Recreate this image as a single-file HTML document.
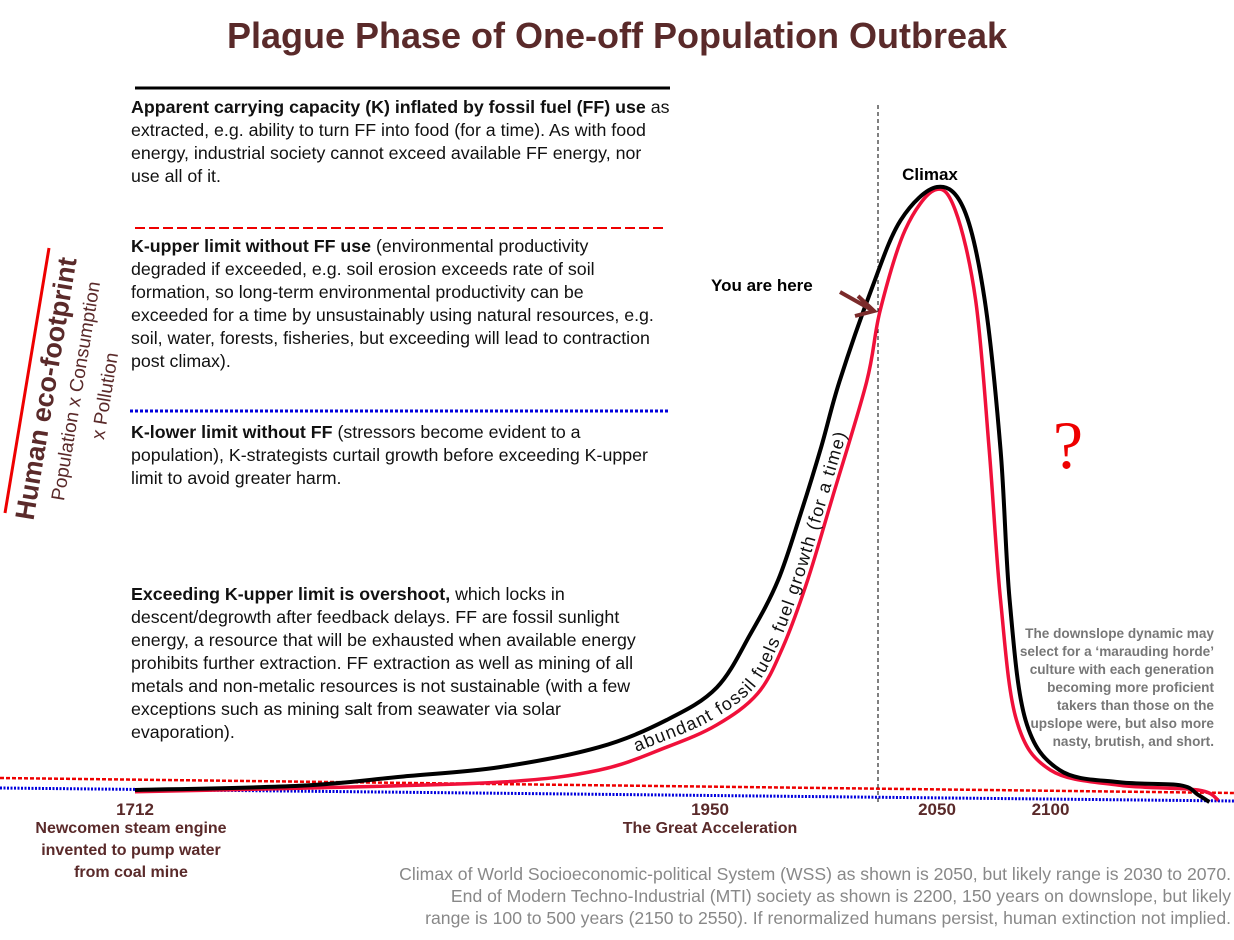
<!DOCTYPE html>
<html><head><meta charset="utf-8"><style>
body{margin:0;width:1234px;height:940px;background:#fff;overflow:hidden;position:relative;font-family:"Liberation Sans",sans-serif}
.t{position:absolute;font-size:17.8px;line-height:23px;color:#111;white-space:nowrap}
.br{color:#5a2a2a;font-weight:bold;position:absolute;text-align:center;font-size:16px;line-height:22px}
</style></head><body>
<div style="position:absolute;left:0;width:1234px;top:15px;text-align:center;font-size:36px;font-weight:bold;color:#5a2a2a">Plague Phase of One-off Population Outbreak</div>
<svg width="1234" height="940" style="position:absolute;left:0;top:0">
<defs><path id="labelPath" d=""/></defs>
<line x1="135" y1="88" x2="670" y2="88" stroke="#000" stroke-width="3"/>
<line x1="135" y1="228" x2="665" y2="228" stroke="#e00" stroke-width="2" stroke-dasharray="10,4"/>
<line x1="130" y1="411" x2="668" y2="411" stroke="#00d" stroke-width="3" stroke-dasharray="3,2"/>
<line x1="49" y1="248" x2="5" y2="513" stroke="#e00" stroke-width="3"/>
<line x1="0" y1="778" x2="1234" y2="793" stroke="#e00" stroke-width="2.5" stroke-dasharray="4,2"/>
<line x1="0" y1="788" x2="1234" y2="801" stroke="#00d" stroke-width="3" stroke-dasharray="2,1.5"/>
<line x1="878" y1="105" x2="878" y2="805" stroke="#000" stroke-width="1" stroke-dasharray="4,3"/>
<g id="curves"></g>
<text transform="translate(55,390) rotate(-80.6)" text-anchor="middle" font-size="27" font-weight="bold" fill="#5a2a2a" font-family="Liberation Sans, sans-serif">Human eco-footprint</text>
<text transform="translate(82,392) rotate(-80.6)" text-anchor="middle" font-size="19" fill="#5a2a2a" font-family="Liberation Sans, sans-serif">Population x Consumption</text>
<text transform="translate(111,397) rotate(-80.6)" text-anchor="middle" font-size="19" fill="#5a2a2a" font-family="Liberation Sans, sans-serif">x Pollution</text>
<text font-size="18" fill="#111" font-family="Liberation Sans, sans-serif"><textPath id="labelTP" href="#labelPath">abundant fossil fuels  fuel growth (for a time)</textPath></text>
<text x="930" y="180" text-anchor="middle" font-size="17" font-weight="bold" font-family="Liberation Sans, sans-serif">Climax</text>
<text x="711" y="291" font-size="17" font-weight="bold" font-family="Liberation Sans, sans-serif">You are here</text>
<line x1="840" y1="292" x2="872" y2="310" stroke="#7a2a2a" stroke-width="4"/>
<path d="M858,296 L874,311 L855,316" fill="none" stroke="#7a2a2a" stroke-width="4"/>
<text x="1068" y="468" text-anchor="middle" font-size="68" fill="#e00" font-family="Liberation Serif, serif">?</text>
<g id="ticks"></g>
</svg>
<div class="t" style="left:131px;top:96px"><b>Apparent carrying capacity (K) inflated by fossil fuel (FF) use</b> as<br>extracted, e.g. ability to turn FF into food (for a time). As with food<br>energy, industrial society cannot exceed available FF energy, nor<br>use all of it.</div>
<div class="t" style="left:131px;top:235px"><b>K-upper limit without FF use</b> (environmental productivity<br>degraded if exceeded, e.g. soil erosion exceeds rate of soil<br>formation, so  long-term environmental productivity can be<br>exceeded for a time by unsustainably using natural resources, e.g.<br>soil, water, forests, fisheries, but exceeding will lead to contraction<br>post climax).</div>
<div class="t" style="left:131px;top:421px"><b>K-lower limit without FF</b> (stressors become evident to a<br>population), K-strategists curtail growth before exceeding K-upper<br>limit to avoid greater harm.</div>
<div class="t" style="left:131px;top:583px"><b>Exceeding K-upper limit is overshoot,</b> which locks in<br>descent/degrowth after feedback delays. FF are fossil sunlight<br>energy, a resource that will be exhausted when available energy<br>prohibits further extraction. FF extraction as well as mining of all<br>metals and non-metalic resources is not sustainable (with a few<br>exceptions such as mining salt from seawater via solar<br>evaporation).</div>
<div style="position:absolute;right:20px;top:625px;text-align:right;font-size:13.6px;line-height:18px;color:#777;font-weight:bold;white-space:nowrap">The downslope dynamic may<br>select for a ‘marauding horde’<br>culture with each generation<br>becoming more proficient<br>takers than those on the<br>upslope were, but also more<br>nasty, brutish, and short.</div>
<div class="br" style="left:0;width:262px;top:818px">Newcomen steam engine<br>invented to pump water<br>from coal mine</div>
<div class="br" style="left:560px;width:300px;top:818px">The Great Acceleration</div>
<div style="position:absolute;right:3px;top:863px;text-align:right;font-size:17.6px;line-height:22px;color:#888;white-space:nowrap">Climax of World Socioeconomic-political System (WSS) as shown is 2050, but likely range is 2030 to 2070.<br>End of Modern Techno-Industrial (MTI) society as shown  is 2200, 150 years on downslope, but likely<br>range is 100 to 500 years (2150 to 2550). If renormalized humans persist, human extinction not implied.</div>
<script>
const tickYears=[1712,1950,2050,2100];
const blackYears=[1712,1780,1822,1863,1904,1932,1953,1968,1980,1990,1999,2007,2021,2034,2050,2062,2071,2078,2082,2089,2104,2130,2157,2165,2170];
const blackVals=[0,0.7,2.2,3.8,7.1,11.6,17,26,34.8,45.9,56.9,67.7,82.9,94.5,100,96.2,81.3,56.4,31.5,11.6,3.3,1.3,0.8,-0.8,-2.0];
const redYears=[1712,1780,1863,1904,1932,1953,1971,1982,1993,2004,2019,2025,2036,2049,2058,2067,2073,2078,2085,2100,2130,2165,2174];
const redVals=[-0.3,0.3,1.3,3.3,7.1,10.8,16,23.6,34.8,48.6,67.7,79.6,92.9,99.5,96.2,81.3,56.4,31.5,11.6,3.3,0.8,0,-1.7];
function xs(yr){return yr<1950?135+(yr-1712)*2.416:710+(yr-1950)*2.27;}
function ys(v){return 790-v*6.03;}
const NS='http://www.w3.org/2000/svg';
function pathFor(yrs,vals,dx,dy){
 dx=dx||0;dy=dy||0;
 const p=yrs.map((y,i)=>[xs(y)+dx,ys(vals[i])+dy]);
 let d='M'+p[0][0]+','+p[0][1];
 for(let i=0;i<p.length-1;i++){
  const p0=p[Math.max(0,i-1)],p1=p[i],p2=p[i+1],p3=p[Math.min(p.length-1,i+2)];
  const c1=[p1[0]+(p2[0]-p0[0])/6,p1[1]+(p2[1]-p0[1])/6];
  const c2=[p2[0]-(p3[0]-p1[0])/6,p2[1]-(p3[1]-p1[1])/6];
  d+=' C'+c1+' '+c2+' '+p2;
 }
 return d;
}
const g=document.getElementById('curves');
const rp=document.createElementNS(NS,'path');


rp.setAttribute('d',pathFor(redYears,redVals));
rp.setAttribute('fill','none');rp.setAttribute('stroke','#f0103a');rp.setAttribute('stroke-width','3.5');
g.appendChild(rp);
const bp=document.createElementNS(NS,'path');


bp.setAttribute('d',pathFor(blackYears,blackVals));
bp.setAttribute('fill','none');bp.setAttribute('stroke','#000');bp.setAttribute('stroke-width','4');
g.appendChild(bp);
// label path following the red curve, slightly above it
const lp=document.getElementById('labelPath');
lp.setAttribute('d',pathFor(redYears.slice(2,11),redVals.slice(2,11),-3,-6));
const total=lp.getTotalLength();
let sL=0,eL=total;
for(let l=0;l<total;l+=1){const pt=lp.getPointAtLength(l);if(pt.x<637)sL=l;if(pt.y>433)eL=l;}
const tp=document.getElementById('labelTP');
tp.setAttribute('startOffset',sL);
tp.setAttribute('textLength',Math.max(50,eL-sL));
tp.setAttribute('lengthAdjust','spacing');
const tg=document.getElementById('ticks');
tickYears.forEach(y=>{
 const t=document.createElementNS(NS,'text');
 
 
 t.setAttribute('x',xs(y));t.setAttribute('y',815);
 t.setAttribute('text-anchor','middle');t.setAttribute('font-size','17');t.setAttribute('font-weight','bold');
 t.setAttribute('fill','#5a2a2a');t.setAttribute('font-family','Liberation Sans, sans-serif');
 t.textContent=y;tg.appendChild(t);
});
</script>
</body></html>
